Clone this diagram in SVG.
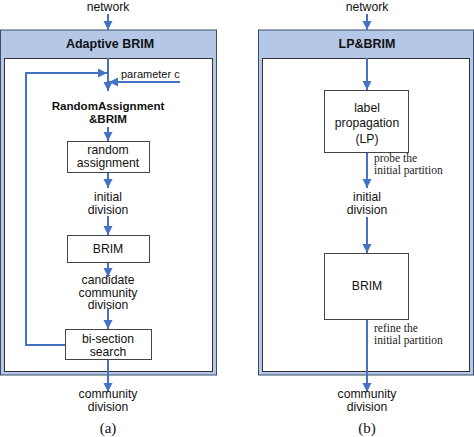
<svg xmlns="http://www.w3.org/2000/svg" width="474" height="437" viewBox="0 0 474 437">
<defs>
<marker id="arr" viewBox="0 0 10 10" refX="10" refY="5" markerWidth="9" markerHeight="10" markerUnits="userSpaceOnUse" orient="auto">
<path d="M0,0 L10,5 L0,10 z" fill="#4472C4"/>
</marker>
<style>
text{font-family:"Liberation Sans",Arial,sans-serif;font-size:12.2px;fill:#111;text-anchor:middle}
.hd{font-weight:bold;font-size:12.5px}
.big{font-weight:bold;font-size:11.6px}
.s{font-family:"Liberation Serif","Times New Roman",serif;font-size:11.5px;text-anchor:start;fill:#222}
.cap{font-family:"Liberation Serif","Times New Roman",serif;font-size:15px}
.outer{fill:#B4C7E7;stroke:#3A4A6A;stroke-width:1}
.inner{fill:#fff;stroke:#333;stroke-width:1}
.box{fill:#fff;stroke:#444;stroke-width:1}
.c{fill:none;stroke:#4472C4;stroke-width:2}
</style>
</defs>

<g id="panel-a">
<rect class="outer" x="0.5" y="30" width="216" height="345"/>
<rect class="inner" x="4.5" y="58.5" width="208" height="313"/>
<text class="hd" x="110" y="48">Adaptive BRIM</text>
</g>
<g id="panel-b">
<rect class="outer" x="258.5" y="30" width="215" height="345"/>
<rect class="inner" x="262.5" y="58.5" width="207" height="313"/>
<text class="hd" x="367" y="48">LP&amp;BRIM</text>
</g>

<g id="connectors">
<line class="c" x1="108" y1="14" x2="108" y2="30" marker-end="url(#arr)"/>
<line class="c" x1="108" y1="58" x2="108" y2="91" marker-end="url(#arr)"/>
<polyline class="c" points="65,345 26,345 26,73 107,73" marker-end="url(#arr)"/>
<line class="c" x1="180" y1="82" x2="109" y2="82" marker-end="url(#arr)"/>
<line class="c" x1="108" y1="127" x2="108" y2="141" marker-end="url(#arr)"/>
<line class="c" x1="108" y1="173" x2="108" y2="188" marker-end="url(#arr)"/>
<line class="c" x1="108" y1="216" x2="108" y2="235" marker-end="url(#arr)"/>
<line class="c" x1="108" y1="263" x2="108" y2="277" marker-end="url(#arr)"/>
<line class="c" x1="108" y1="309" x2="108" y2="329" marker-end="url(#arr)"/>
<line class="c" x1="108" y1="360" x2="108" y2="392" marker-end="url(#arr)"/>

<line class="c" x1="367" y1="14" x2="367" y2="30" marker-end="url(#arr)"/>
<line class="c" x1="367" y1="58" x2="367" y2="90" marker-end="url(#arr)"/>
<line class="c" x1="367" y1="153" x2="367" y2="188" marker-end="url(#arr)"/>
<line class="c" x1="367" y1="217" x2="367" y2="253" marker-end="url(#arr)"/>
<line class="c" x1="367" y1="320" x2="367" y2="392" marker-end="url(#arr)"/>
</g>

<g id="network-a"><text x="108" y="10.5">network</text></g>
<g id="param-c"><text x="121" y="78" style="text-anchor:start;font-size:11px">parameter c</text></g>
<g id="ra-brim"><text class="big" x="108" y="110">RandomAssignment</text><text class="big" x="108" y="123">&amp;BRIM</text></g>
<g id="random-assignment"><rect class="box" x="67.5" y="141.5" width="82" height="31"/><text x="108" y="154">random</text><text x="108" y="166.5">assignment</text></g>
<g id="initial-a"><text x="108" y="201">initial</text><text x="108" y="213.5">division</text></g>
<g id="brim-a"><rect class="box" x="67.5" y="235.5" width="82" height="27"/><text x="108" y="253">BRIM</text></g>
<g id="candidate"><text x="108" y="284">candidate</text><text x="108" y="296.5">community</text><text x="108" y="309">division</text></g>
<g id="bisection"><rect class="box" x="65.5" y="329.5" width="86" height="30"/><text x="108" y="343">bi-section</text><text x="108" y="355.5">search</text></g>
<g id="community-a"><text x="108" y="398">community</text><text x="108" y="410.5">division</text></g>
<g id="cap-a"><text class="cap" x="108" y="433">(a)</text></g>

<g id="network-b"><text x="367" y="10.5">network</text></g>
<g id="lp"><rect class="box" x="324.5" y="90.5" width="84" height="62"/><text x="367" y="112">label</text><text x="367" y="127">propagation</text><text x="367" y="143">(LP)</text></g>
<g id="probe"><text class="s" x="374" y="162">probe the</text><text class="s" x="374" y="173.5">initial partition</text></g>
<g id="initial-b"><text x="367" y="201">initial</text><text x="367" y="213.5">division</text></g>
<g id="brim-b"><rect class="box" x="324.5" y="253.5" width="84" height="66"/><text x="367" y="290">BRIM</text></g>
<g id="refine"><text class="s" x="374" y="332">refine the</text><text class="s" x="374" y="343.5">initial partition</text></g>
<g id="community-b"><text x="367" y="398">community</text><text x="367" y="410.5">division</text></g>
<g id="cap-b"><text class="cap" x="367" y="433">(b)</text></g>
</svg>
